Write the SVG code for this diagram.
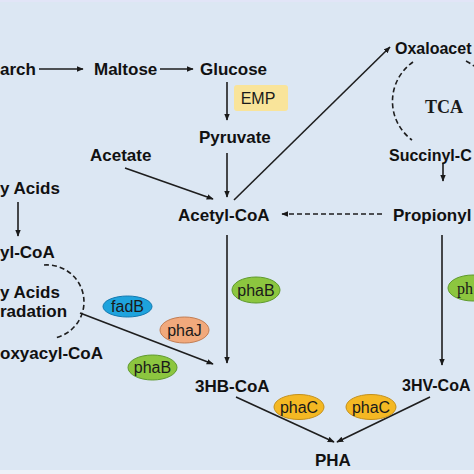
<svg xmlns="http://www.w3.org/2000/svg" width="474" height="474" viewBox="0 0 474 474">
<defs>
<marker id="ah" viewBox="0 0 10 10" refX="9" refY="5" markerWidth="7" markerHeight="7" markerUnits="userSpaceOnUse" orient="auto"><path d="M0,1 L10,5 L0,9 Z" fill="#1a1a1a"/></marker>
<style>
.lbl{font-family:"Liberation Sans",Arial,sans-serif;font-weight:bold;font-size:17px;fill:#111}
.edge{font-size:16px}
.enz{font-family:"Liberation Sans",Arial,sans-serif;font-size:16px;fill:#1a1a1a;text-anchor:middle}
.ln{stroke:#1e1e1e;stroke-width:1.6;fill:none}
.arr{marker-end:url(#ah)}
.dash{stroke-dasharray:5,3}
.green{fill:#8cc63f;stroke:#5e9a2c;stroke-width:1}
.yel{fill:#f4b823;stroke:#c4901a;stroke-width:1}
</style>
</defs>
<rect x="0" y="0" width="474" height="474" fill="#dce7f3"/>
<rect x="0" y="0" width="474" height="2" fill="#e2e5f7"/>
<rect x="0" y="470" width="474" height="4" fill="#edf1f8"/>

<g id="connectors">
<line class="ln arr" x1="39" y1="69" x2="83" y2="69"/>
<line class="ln arr" x1="160" y1="69" x2="193" y2="69"/>
<line class="ln arr" x1="227" y1="82" x2="227" y2="120"/>
<line class="ln arr" x1="227" y1="153" x2="227" y2="197"/>
<line class="ln arr" x1="125" y1="168" x2="213" y2="199"/>
<line class="ln arr" x1="234" y1="200" x2="390" y2="47"/>
<line class="ln arr dash" x1="382" y1="214" x2="282" y2="214"/>
<line class="ln arr" x1="443" y1="163" x2="443" y2="181"/>
<line class="ln arr" x1="227" y1="235" x2="227" y2="363"/>
<line class="ln arr" x1="442" y1="235" x2="442" y2="365"/>
<line class="ln arr" x1="18" y1="202" x2="18" y2="236"/>
<line class="ln arr" x1="80" y1="313" x2="213" y2="364"/>
<line class="ln arr" x1="236" y1="397" x2="334" y2="442"/>
<line class="ln arr" x1="430" y1="397" x2="337" y2="442"/>
<path class="ln dash" d="M413,62 A48,48 0 0,0 412,140"/>
<path class="ln dash" d="M466,61 A48,48 0 0,1 474,66"/>
<path class="ln dash" d="M44,265 A37,37 0 0,1 55,338"/>
</g>

<g id="starch"><text class="lbl" x="0" y="75">arch</text></g>
<g id="maltose"><text class="lbl" x="94" y="75">Maltose</text></g>
<g id="glucose"><text class="lbl" x="200" y="75">Glucose</text></g>
<g id="emp"><rect x="234" y="85" width="54" height="26" rx="3" fill="#f9e49a"/><text x="258" y="104" font-family="Liberation Sans,Arial,sans-serif" font-size="16" fill="#1a1a1a" text-anchor="middle">EMP</text></g>
<g id="pyruvate"><text class="lbl" x="199" y="143">Pyruvate</text></g>
<g id="acetate"><text class="lbl" x="90" y="161">Acetate</text></g>
<g id="acetylcoa"><text class="lbl" x="178" y="221">Acetyl-CoA</text></g>
<g id="oxaloacetate"><text class="lbl edge" x="395" y="54">Oxaloacet</text></g>
<g id="tca"><text x="444" y="113" font-family="Liberation Serif,Times New Roman,serif" font-weight="bold" font-size="18" fill="#1a1a1a" text-anchor="middle">TCA</text></g>
<g id="succinylcoa"><text class="lbl edge" x="389" y="161">Succinyl-C</text></g>
<g id="propionyl"><text class="lbl" x="393" y="221">Propionyl</text></g>
<g id="fattyacids"><text class="lbl" x="0" y="194">y Acids</text></g>
<g id="acylcoa"><text class="lbl" x="0" y="258">yl-CoA</text></g>
<g id="degradation"><text class="lbl" x="0" y="298">y Acids</text><text class="lbl" x="0" y="317">radation</text></g>
<g id="hydroxyacylcoa"><text class="lbl" x="0" y="359">oxyacyl-CoA</text></g>
<g id="hbcoa"><text class="lbl" x="195" y="392">3HB-CoA</text></g>
<g id="hvcoa"><text class="lbl edge" x="402" y="391">3HV-CoA</text></g>
<g id="pha"><text class="lbl" x="315" y="466">PHA</text></g>

<g id="phaB1"><ellipse class="green" cx="256" cy="290" rx="24" ry="13"/><text class="enz" x="256" y="296">phaB</text></g>
<g id="phaB2"><ellipse class="green" cx="473" cy="288" rx="25" ry="13"/><text x="457" y="294" font-family="Liberation Serif,Times New Roman,serif" font-size="16" fill="#1a1a1a">ph</text></g>
<g id="fadB"><ellipse cx="127.5" cy="306.5" rx="24.5" ry="10.5" fill="#1ea3dd" stroke="#1479b0" stroke-width="1"/><text class="enz" x="127.5" y="312" fill="#14305a">fadB</text></g>
<g id="phaJ"><ellipse cx="184.5" cy="330" rx="24.5" ry="13" fill="#f1a97c" stroke="#c27d52" stroke-width="1"/><text class="enz" x="184.5" y="336">phaJ</text></g>
<g id="phaB3"><ellipse class="green" cx="152.5" cy="367.5" rx="24.5" ry="12.5"/><text class="enz" x="152.5" y="373">phaB</text></g>
<g id="phaC1"><ellipse class="yel" cx="299" cy="407" rx="25" ry="12.5"/><text class="enz" x="299" y="413">phaC</text></g>
<g id="phaC2"><ellipse class="yel" cx="371" cy="407" rx="25" ry="12.5"/><text class="enz" x="371" y="413">phaC</text></g>
</svg>
